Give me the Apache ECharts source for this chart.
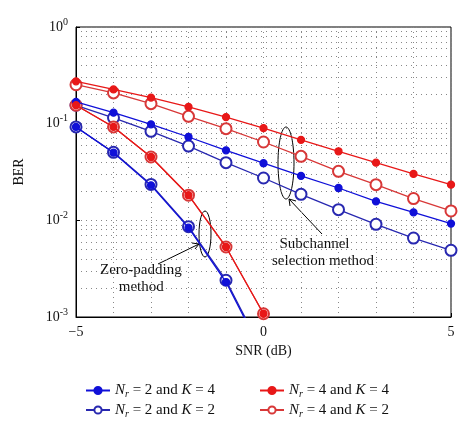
<!DOCTYPE html>
<html><head><meta charset="utf-8">
<script src="https://cdn.jsdelivr.net/npm/echarts@6/dist/echarts.min.js"></script>
<style>html,body{margin:0;padding:0;background:#fff}#c{width:474px;height:433px}</style>
</head><body><div id="c"></div>
<script>
const snr = [-5,-4,-3,-2,-1,0,1,2,3,4,5];
const subN2K4 = [0.168,0.130,0.0984,0.0728,0.053,0.039,0.0288,0.0216,0.0157,0.0121,0.00925];
const subN2K2 = [0.155,0.115,0.0834,0.0587,0.0395,0.0274,0.0186,0.0129,0.0091,0.00656,0.0049];
const subN4K4 = [0.274,0.226,0.186,0.149,0.117,0.090,0.068,0.0518,0.0395,0.0302,0.0234];
const subN4K2 = [0.253,0.208,0.161,0.119,0.0888,0.0646,0.0459,0.0321,0.0234,0.0168,0.0125];
const zpN2K4 = [0.0925,0.0501,0.0230,0.0084,0.0023,0.0004];
const zpN2K2 = [0.0925,0.0505,0.0235,0.0086,0.0024,0.00042];
const zpN4K4 = [0.155,0.0925,0.0452,0.0182,0.0053,0.00108];
const zpN4K2 = [0.155,0.0925,0.0452,0.0182,0.0053,0.00108];
const labels = {
  N2K4:'{i|N}{s|r} = 2 and {i|K} = 4', N2K2:'{i|N}{s|r} = 2 and {i|K} = 2',
  N4K4:'{i|N}{s|r} = 4 and {i|K} = 4', N4K2:'{i|N}{s|r} = 4 and {i|K} = 2'
};
const BLUE='#1010d8', BLUE2='#2828b0', RED='#e81818', RED2='#d83838';
const style = {
  N2K4:{c:BLUE, sym:'circle', size:7},
  N2K2:{c:BLUE2, sym:'emptyCircle', size:11},
  N4K4:{c:RED, sym:'circle', size:7},
  N4K2:{c:RED2, sym:'emptyCircle', size:11}
};
function mk(name, ys){
  const s = style[name];
  return {name, type:'line', data: ys.map((v,i)=>[snr[i],v]), symbol:s.sym, symbolSize:s.size,
    showSymbol:true, clip:true, lineStyle:{color:s.c,width:1.3},
    itemStyle:{color:s.c, borderColor:s.c, borderWidth:1.3}, z: s.sym==='circle'?3:2};
}
const rich = {i:{fontStyle:'italic',fontFamily:'Liberation Serif',fontSize:15},
  s:{fontStyle:'italic',fontFamily:'Liberation Serif',fontSize:10,verticalAlign:'bottom',padding:[8,0,0,0]}};
const legTS = {fontFamily:'Liberation Serif',fontSize:15,color:'#111',rich};
const dot = {color:'#888',type:[1,4],width:1};
const chart = echarts.init(document.getElementById('c'));
chart.setOption({
  animation:false,
  grid:{left:76,right:23,top:27,bottom:116,show:true,borderColor:'#000',borderWidth:1},
  legend:[
    {data:['N2K4','N2K2'],orient:'vertical',left:80,top:378,itemGap:3,itemWidth:24,itemHeight:9,
     formatter:n=>labels[n],textStyle:legTS},
    {data:['N4K4','N4K2'],orient:'vertical',left:254,top:378,itemGap:3,itemWidth:24,itemHeight:9,
     formatter:n=>labels[n],textStyle:legTS}
  ],
  xAxis:{type:'value',min:-5,max:5,interval:5,name:'SNR (dB)',nameLocation:'middle',nameGap:20,
    nameTextStyle:{fontFamily:'Liberation Serif',fontSize:14,color:'#111'},
    axisLine:{onZero:false,lineStyle:{color:'#000'}},axisTick:{inside:true,length:4,lineStyle:{color:'#000'}},
    axisLabel:{fontFamily:'Liberation Serif',fontSize:14,color:'#111',formatter:v=>v<0?'\u2212'+(-v):String(v)},
    splitLine:{show:true,lineStyle:dot},
    minorTick:{show:false,splitNumber:5},minorSplitLine:{show:true,lineStyle:dot}},
  yAxis:{type:'log',logBase:10,min:0.001,max:1,name:'BER',nameLocation:'middle',nameGap:50,
    nameTextStyle:{fontFamily:'Liberation Serif',fontSize:14,color:'#111'},
    axisLine:{onZero:false,lineStyle:{color:'#000'}},axisTick:{inside:true,length:4,lineStyle:{color:'#000'}},
    axisLabel:{fontFamily:'Liberation Serif',fontSize:14,color:'#111',
      formatter:v=>'10{e|'+Math.round(Math.log10(v))+'}',
      rich:{e:{fontSize:10,fontFamily:'Liberation Serif',verticalAlign:'top',padding:[0,0,10,0]}}},
    splitLine:{show:true,lineStyle:dot},
    minorTick:{show:false,splitNumber:9},minorSplitLine:{show:true,lineStyle:dot}},
  graphic:[
    {type:'ellipse',shape:{cx:286,cy:163,rx:8,ry:36},style:{fill:'none',stroke:'#000',lineWidth:1}},
    {type:'ellipse',shape:{cx:205,cy:234,rx:6,ry:23},style:{fill:'none',stroke:'#000',lineWidth:1}},
    {type:'line',shape:{x1:322,y1:234,x2:289,y2:199},style:{stroke:'#000',lineWidth:1}},
    {type:'polyline',shape:{points:[[290,206],[289,199],[296,201]]},style:{stroke:'#000',fill:'none',lineWidth:1}},
    {type:'line',shape:{x1:158,y1:264,x2:199,y2:244},style:{stroke:'#000',lineWidth:1}},
    {type:'polyline',shape:{points:[[192,243],[199,244],[195,249]]},style:{stroke:'#000',fill:'none',lineWidth:1}},
    {type:'text',left:272,top:236,style:{text:'  Subchannel\nselection method',fontFamily:'Liberation Serif',fontSize:15,lineHeight:17,fill:'#111'}},
    {type:'text',left:100,top:262,style:{text:'Zero-padding\n     method',fontFamily:'Liberation Serif',fontSize:15,lineHeight:17,fill:'#111'}}
  ],
  series:[
    mk('N2K2',subN2K2),mk('N4K2',subN4K2),mk('N2K4',subN2K4),mk('N4K4',subN4K4),
    mk('N2K2',zpN2K2),mk('N4K2',zpN4K2),mk('N2K4',zpN2K4),mk('N4K4',zpN4K4)
  ]
});
</script></body></html>
